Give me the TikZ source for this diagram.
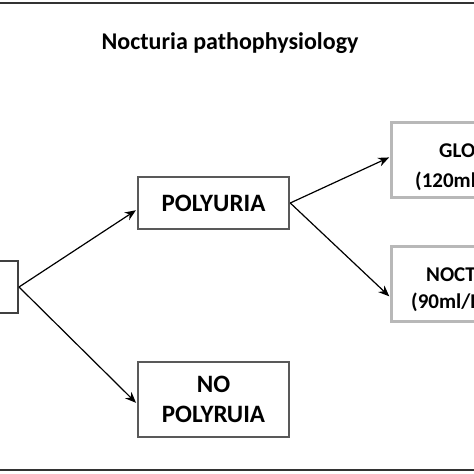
\documentclass[tikz,border=0pt]{standalone}
\usepackage{fontspec}
\setmainfont{Carlito}
\usetikzlibrary{arrows.meta,positioning}

\begin{document}
\begin{tikzpicture}[x=1pt,y=-1pt,>={Stealth[length=11pt,width=9pt]},
  box/.style={draw=black!65,line width=2.5pt,fill=white,inner sep=0pt,
    minimum width=151pt,align=center,font=\fontsize{25}{30}\selectfont\bfseries},
  pale box/.style={box,draw=black!28,minimum width=160pt,minimum height=75pt},
  box text/.style={inner sep=0pt,anchor=base west,font=\fontsize{21}{25}\selectfont\bfseries},
  arr/.style={->,line width=1.2pt,shorten >=1pt},
  rule/.style={line width=2.5pt,black!80}]

\useasboundingbox (0,0) rectangle (474,474);
\clip (0,0) rectangle (474,474);

% frame lines top and bottom
\draw[rule] (0,3) -- (474,3);
\draw[rule] (0,470) -- (474,470);

\node[font=\fontsize{24}{29}\selectfont\bfseries] (title) at (230,43) {Nocturia pathophysiology};

\node[box,draw=black!75,minimum height=52pt,anchor=east] (nocturia) at (19,287) {};
\node[box,minimum height=52pt] (poly) at (213.5,203) {POLYURIA};
\node[box,minimum height=75pt] (nopoly) at (213.5,399.5) {NO\\POLYRUIA};

% the two boxes on the right run past the edge
\node[pale box,anchor=west] (glob) at (390,160) {};
\node[pale box,anchor=west] (noctp) at (390,284) {};
\node[box text] (globA) at (439,157) {GLO};
\node[box text] (globB) at (415,187) {(120ml};
\node[box text] (noctA) at (426,281) {NOCT};
\node[box text] (noctB) at (411,308) {(90ml/H};

\draw[arr] (nocturia.east) -- (poly.185);
\draw[arr] (nocturia.east) -- (nopoly.183);
\draw[arr] (poly.east) -- ([yshift=3pt]glob.west);
\draw[arr] (poly.east) -- ([yshift=-13pt]noctp.west);
\end{tikzpicture}
\end{document}
